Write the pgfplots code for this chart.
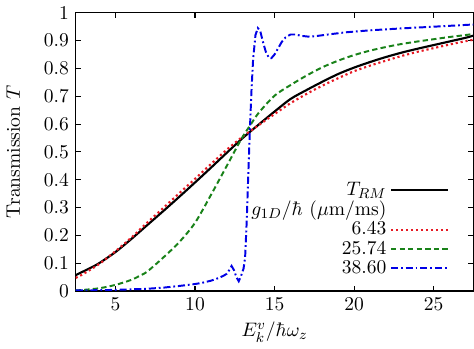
\documentclass[border=0pt,11pt]{standalone}
\usepackage{pgfplots}
\pgfplotsset{compat=1.18}
\definecolor{gred}{RGB}{230,25,35}
\definecolor{ggreen}{RGB}{25,130,25}
\definecolor{gblue}{RGB}{0,0,230}
\begin{document}
\begin{tikzpicture}
\begin{axis}[
  scale only axis,
  width=223pt, height=156pt,
  xmin=2.5, xmax=27.5, ymin=0, ymax=1,
  xtick={5,10,15,20,25},
  ytick={0,0.1,0.2,0.3,0.4,0.5,0.6,0.7,0.8,0.9,1},
  yticklabel style={/pgf/number format/fixed,/pgf/number format/precision=1},
  tick align=inside,
  tick pos=both,
  major tick length=3pt,
  tick style={black, line width=0.6pt},
  axis line style={line width=0.7pt},
  xlabel={$E_k^v/\hbar\omega_z$},
  ylabel={Transmission $T$},
  xlabel style={yshift=1pt},
  ylabel style={at={([xshift=-35pt]axis description cs:0,0.5)}, anchor=center},
  legend cell align=right,
  legend plot pos=right,
  legend style={draw=none, fill=none, at={(0.94,0.04)}, anchor=south east,
    row sep=-2.3pt, inner sep=0pt},
  legend image code/.code={\draw[#1] (0pt,0pt) -- (32pt,0pt);},
  clip=true,
]
\addplot[black, line width=1.2pt, smooth] coordinates {
(2.5,0.057) (3,0.071) (3.5,0.085) (4,0.101) (5,0.140) (6,0.187) (7,0.237)
(8,0.287) (9,0.338) (10,0.390) (11,0.443) (12,0.497) (13,0.550) (14,0.598)
(15,0.645) (16,0.690) (17,0.722) (18,0.752) (19,0.780) (20,0.803) (21,0.823)
(22,0.841) (23,0.857) (24,0.871) (25,0.884) (26,0.897) (27,0.910) (27.5,0.918)
};
\addlegendentry{$T_{RM}$}
\addlegendimage{empty legend}
\addlegendentry{$g_{1D}/\hbar$ ($\mu$m/ms)}
\addplot[gred, line width=1.2pt, dash pattern=on 1.2pt off 1.6pt, smooth] coordinates {
(2.5,0.047) (3,0.062) (4,0.098) (5,0.143) (6,0.192) (7,0.246) (8,0.298)
(9,0.351) (10,0.403) (11,0.456) (12,0.508) (13,0.555) (14,0.596) (15,0.636)
(16,0.675) (17,0.708) (18,0.738) (19,0.765) (20,0.790) (21,0.810) (22,0.828)
(23,0.845) (24,0.860) (25,0.873) (26,0.886) (27,0.898) (27.5,0.903)
};
\addlegendentry{6.43}
\addplot[ggreen, line width=1.1pt, dash pattern=on 3pt off 1.8pt, smooth] coordinates {
(2.5,0.002) (3,0.004) (4,0.010) (5,0.022) (6,0.040) (6.5,0.054) (7,0.070)
(8,0.120) (9,0.175) (10,0.245) (11,0.345) (12,0.450) (12.9,0.545) (13.5,0.598)
(14,0.640) (15,0.702) (16,0.740) (17,0.774) (18,0.804) (19,0.828) (20,0.848)
(21,0.864) (22,0.877) (23,0.888) (24,0.897) (25,0.905) (26,0.913) (27,0.920) (27.5,0.924)
};
\addlegendentry{25.74}
\addplot[gblue, line width=1.1pt, dash pattern=on 4pt off 1.6pt on 1pt off 1.6pt] coordinates {
(2.5,0.002) (4,0.003) (5,0.004) (6,0.006) (7,0.008) (8,0.012) (9,0.018)
(10,0.025) (10.5,0.030) (11,0.037) (11.5,0.047) (11.8,0.055) (12.0,0.062)
(12.15,0.075) (12.3,0.090) (12.45,0.075) (12.6,0.050) (12.75,0.035) (12.9,0.055)
(13.05,0.080) (13.15,0.120) (13.25,0.250) (13.35,0.420) (13.45,0.580) (13.55,0.720)
(13.65,0.830) (13.8,0.920) (13.95,0.945) (14.1,0.935) (14.25,0.900) (14.45,0.860)
(14.65,0.838) (14.8,0.837) (15.0,0.850) (15.2,0.870) (15.45,0.895) (15.7,0.912)
(16.0,0.922) (16.3,0.922) (16.7,0.917) (17.2,0.914) (17.7,0.917) (18.5,0.923)
(19.5,0.930) (21,0.937) (23,0.944) (25,0.950) (27.5,0.958)
};
\addlegendentry{38.60}
\end{axis}
\end{tikzpicture}
\end{document}
